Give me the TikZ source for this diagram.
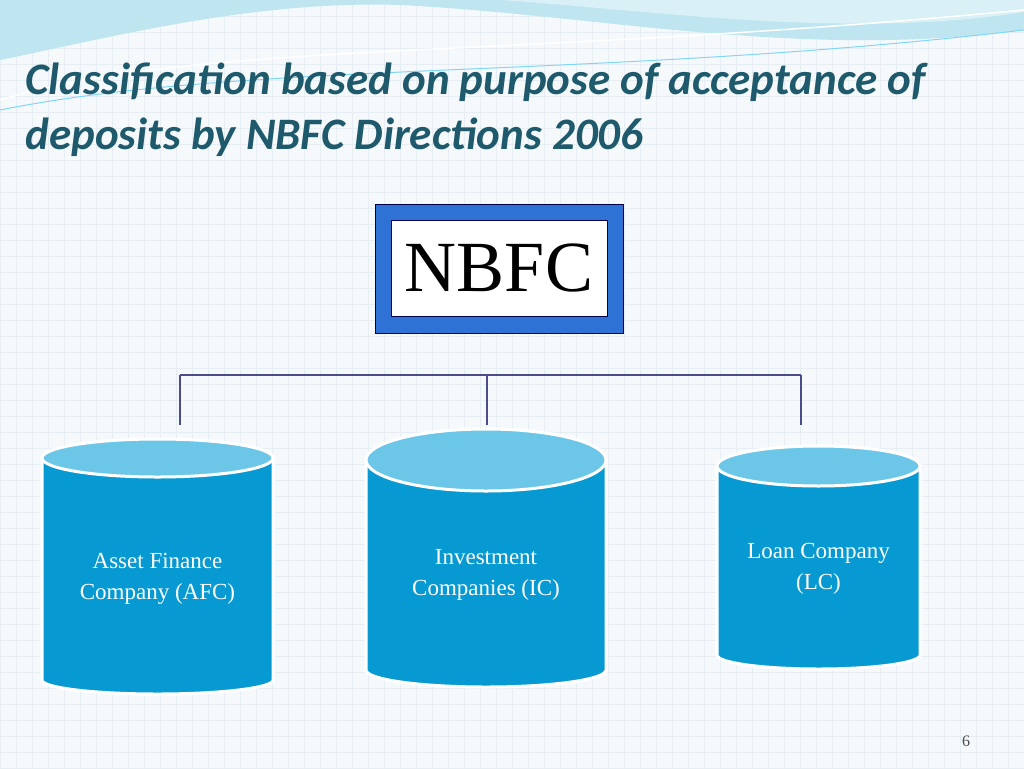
\documentclass[tikz,border=0pt]{standalone}
\usepackage{fontspec}
\setmainfont{Liberation Serif}
\newfontfamily\titlefont{Carlito}
\begin{document}
\begin{tikzpicture}[x=1pt,y=-1pt,
  conn/.style={draw=black!40!blue!40!gray,line width=1.2pt},
  cylbody/.style={fill=cylblue,draw=white,line width=3pt},
  cyltop/.style={fill=cyltop,draw=white,line width=3pt},
  lbl/.style={text=white,font=\fontsize{23}{31}\selectfont,align=center}]
\definecolor{bg}{HTML}{F6F9FC}
\definecolor{gridc}{HTML}{E6EEF4}
\definecolor{cylblue}{HTML}{0799D2}
\definecolor{cyltop}{HTML}{6CC6E8}
\definecolor{titlec}{HTML}{1E5A6C}
\definecolor{nbfcblue}{HTML}{2F72D6}
\definecolor{wave}{HTML}{BFE6F0}
\useasboundingbox (0,0) rectangle (1024,768);
\fill[bg] (0,0) rectangle (1024,768);
\foreach \i in {0,16,...,1024} \draw[gridc,line width=0.3pt] (\i,0)--(\i,768);
\foreach \i in {0,16,...,768} \draw[gridc,line width=0.3pt] (0,\i)--(1024,\i);
% top waves
\fill[wave] (0,0) -- (1024,0) -- (1024,30) .. controls (800,60) and (600,15) .. (400,5) .. controls (250,0) and (100,40) .. (0,60) -- cycle;
\fill[white!40!wave] (300,0) -- (1024,0) -- (1024,12) .. controls (850,40) and (650,10) .. (500,0) -- cycle;
\draw[white,line width=1.5pt] (0,100) .. controls (200,40) and (500,60) .. (1024,10);
\draw[cyan!50!white,line width=1pt] (0,110) .. controls (250,60) and (600,80) .. (1024,30);
% title
\node[anchor=west,text=titlec,font=\titlefont\bfseries\itshape\fontsize{45}{55}\selectfont,align=left] (title) at (22,110) {Classification based on purpose of acceptance of\\deposits by NBFC Directions 2006};
% NBFC box
\node[draw=black!70!blue,line width=1pt,fill=nbfcblue,minimum width=248,minimum height=129] (outer) at (499,268.5) {};
\node[draw=black!70!blue,line width=1pt,fill=white,minimum width=216,minimum height=96,font=\fontsize{72}{72}\selectfont,inner sep=0pt] (nbfc) at (499,268) {NBFC};
% connectors
\coordinate (h0) at (487,375);
\coordinate (hl) at (180,375);
\coordinate (hr) at (801,375);
\coordinate (c1) at (180,425);
\coordinate (c2) at (487,425);
\coordinate (c3) at (801,425);
\draw[conn] (hl) -- (hr);
\draw[conn] (hl) -- (c1);
\draw[conn] (h0) -- (c2);
\draw[conn] (hr) -- (c3);
% cylinders
\draw[cylbody] (42,458) -- (42,680) arc[start angle=180,end angle=0,x radius=115.5,y radius=14] -- (273,458) -- cycle;
\draw[cyltop] (157.5,458) ellipse[x radius=115.5,y radius=19];
\node[lbl] (afc) at (157.5,579) {Asset Finance\\Company (AFC)};
\draw[cylbody] (366,460) -- (366,670) arc[start angle=180,end angle=0,x radius=120,y radius=17] -- (606,460) -- cycle;
\draw[cyltop] (486,460) ellipse[x radius=120,y radius=31];
\node[lbl] (ic) at (486,575) {Investment\\Companies (IC)};
\draw[cylbody] (717,466) -- (717,655) arc[start angle=180,end angle=0,x radius=101.5,y radius=14] -- (920,466) -- cycle;
\draw[cyltop] (818.5,466) ellipse[x radius=101.5,y radius=20];
\node[lbl] (lc) at (818.5,569) {Loan Company\\(LC)};
\node[text=black!70,font=\fontsize{16}{16}\selectfont] (pg) at (966,741) {6};
\end{tikzpicture}
\end{document}
